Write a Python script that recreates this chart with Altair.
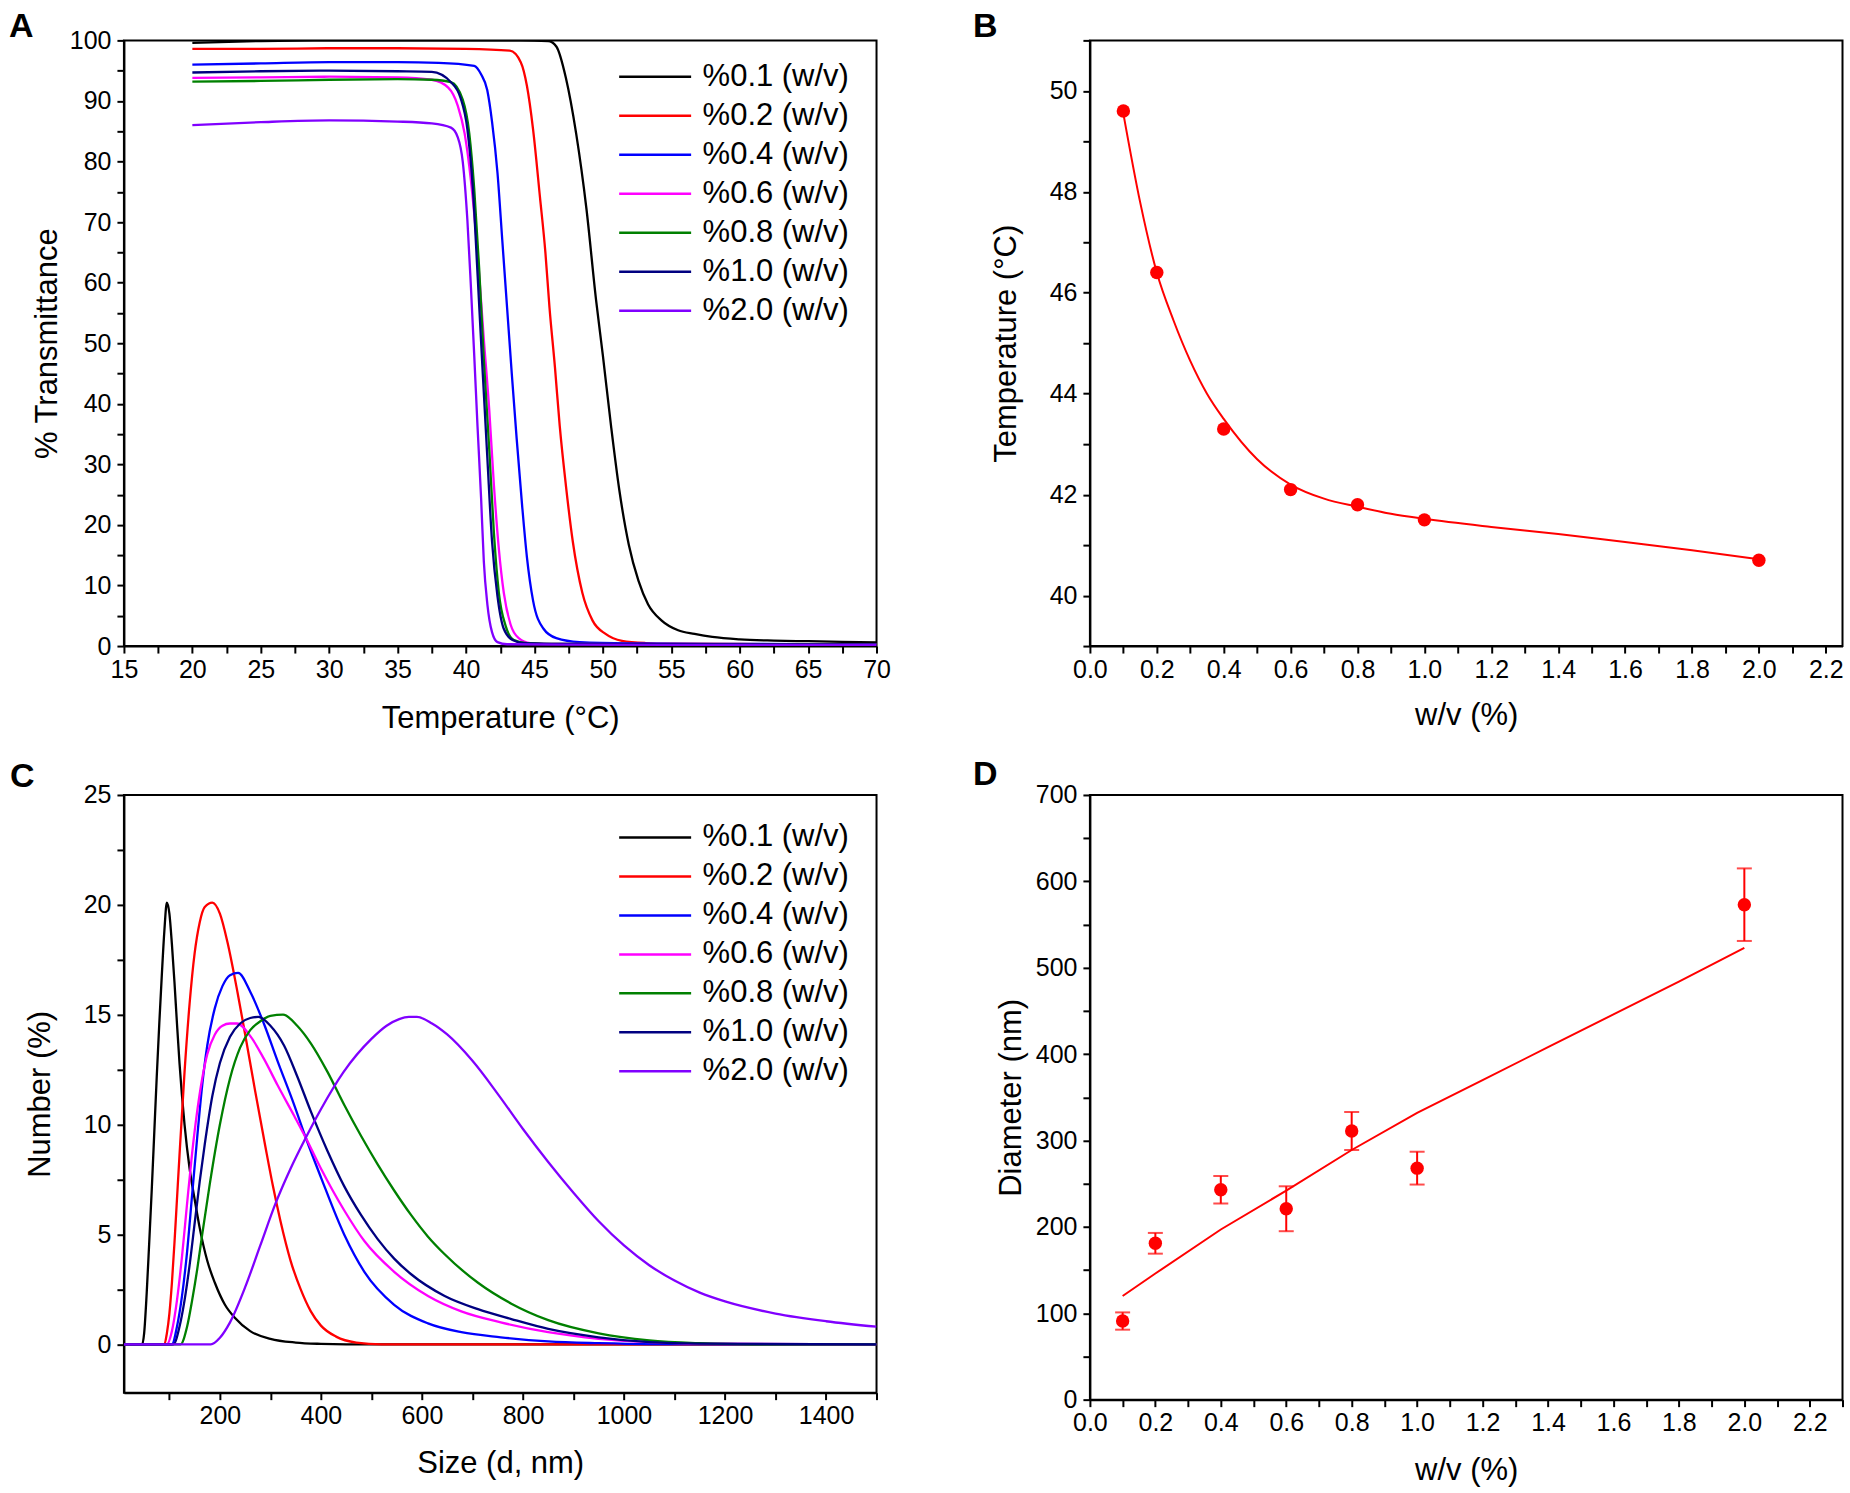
import altair as alt
import pandas as pd

FONT = "Liberation Sans"

SERIES = ["%0.1 (w/v)", "%0.2 (w/v)", "%0.4 (w/v)", "%0.6 (w/v)",
          "%0.8 (w/v)", "%1.0 (w/v)", "%2.0 (w/v)"]
COLORS = ["#000000", "#ff0000", "#0000ff", "#ff00ff", "#008000", "#000080", "#8000ff"]

# ---------------- Panel A: transmittance vs temperature ----------------
a_t_01 = [20, 25, 30, 35, 40, 44, 46, 46.6, 47.3, 48.05, 48.8, 49.5, 50.0, 50.6, 51.2,
          51.9, 52.6, 53.3, 54.3, 55.5, 56.7, 58, 60, 62.5, 65, 67.5, 70]
a_y_01 = [99.6, 99.9, 100, 100, 100, 100, 99.9, 99.0, 93.8, 84.6, 72.2, 57.2, 48, 36.3, 25.8,
          16.7, 10.8, 6.9, 4.2, 2.6, 2.0, 1.5, 1.1, 0.9, 0.8, 0.7, 0.6]
a_t_02 = [20, 25, 30, 35, 40, 43.2, 44.0, 44.45, 44.9, 45.4, 45.8, 46.1, 46.5, 46.85, 47.3,
          47.8, 48.5, 49.25, 50.2, 51.4, 53.1, 55, 60, 65, 70]
a_y_02 = [98.6, 98.6, 98.7, 98.7, 98.6, 98.3, 96.4, 92.5, 85.3, 74.2, 65, 55.9, 46, 36.3, 26.5,
          17.3, 8.8, 4.2, 2.0, 0.85, 0.5, 0.4, 0.35, 0.3, 0.3]
a_t_04 = [20, 25, 30, 35, 38, 40.6, 41.1, 41.55, 41.9, 42.3, 42.65, 43.0, 43.35, 43.7, 44.1,
          44.45, 44.9, 45.65, 46.6, 48.3, 52, 60, 70]
a_y_04 = [96.0, 96.2, 96.4, 96.4, 96.3, 95.8, 94.4, 91.8, 86.6, 78.1, 67, 55.9, 44.8, 34.3, 23.2,
          14.7, 7.5, 2.9, 1.3, 0.65, 0.45, 0.35, 0.3]
a_t_06 = [20, 25, 30, 35, 37.5, 38.7, 39.4, 39.9, 40.36, 40.84, 41.3, 41.7, 42.04, 42.4, 42.76,
          43.25, 43.85, 44.7, 47, 55, 70]
a_y_06 = [93.8, 93.9, 94.0, 93.9, 93.5, 92.2, 89.2, 84.6, 76.8, 65, 50.7, 38.9, 26.5, 16, 8.8,
          3.6, 1.3, 0.5, 0.35, 0.3, 0.25]
a_t_08 = [20, 25, 30, 35, 37.5, 38.9, 39.76, 40.24, 40.6, 40.96, 41.3, 41.7, 42.04, 42.4, 42.9,
          43.5, 44.45, 47, 55, 70]
a_y_08 = [93.2, 93.3, 93.5, 93.6, 93.5, 93.1, 90.2, 84.6, 75.5, 62.4, 47.4, 32.4, 18.6, 8.8, 3.3,
          1.0, 0.5, 0.35, 0.3, 0.25]
a_t_10 = [20, 25, 30, 35, 37.5, 38.9, 39.6, 40.1, 40.5, 40.85, 41.2, 41.56, 41.9, 42.3, 42.75,
          43.4, 44.2, 47, 55, 70]
a_y_10 = [94.7, 94.9, 95.0, 94.9, 94.8, 93.1, 90.5, 85.3, 75.5, 61.1, 46, 31, 17.3, 8.2, 2.9,
          1.0, 0.5, 0.35, 0.3, 0.25]
a_t_20 = [20, 25, 30, 35, 37.5, 38.9, 39.4, 39.76, 40.1, 40.36, 40.6, 40.84, 41.1, 41.3, 41.56,
          41.9, 42.3, 43, 47, 55, 70]
a_y_20 = [86.0, 86.5, 86.8, 86.6, 86.3, 85.6, 84, 80, 70.3, 59.2, 48, 36.3, 24.5, 14, 6.9,
          2.3, 0.65, 0.3, 0.25, 0.2, 0.2]

# ---------------- Panel B: transition temperature ----------------
b_conc = [0.1, 0.2, 0.4, 0.6, 0.8, 1.0, 2.0]
b_temp = [49.6, 46.4, 43.3, 42.1, 41.8, 41.5, 40.7]
b_fit_x = [0.1, 0.15, 0.2, 0.25, 0.3, 0.35, 0.4, 0.5, 0.6, 0.7, 0.8, 0.9, 1.0, 1.2, 1.4, 1.6, 1.8, 2.0]
b_fit_y = [49.55, 47.8, 46.4, 45.45, 44.65, 44.0, 43.5, 42.7, 42.2, 41.92, 41.76, 41.62, 41.52,
           41.36, 41.22, 41.06, 40.9, 40.72]

# ---------------- Panel C: number size distributions ----------------
c_x_01 = [10, 46, 50, 55, 60, 65, 70, 75, 80, 85, 90, 95, 100, 105, 110, 115, 120, 130, 140, 150,
          160, 175, 190, 210, 230, 260, 300, 350, 400, 450, 1500]
c_y_01 = [0, 0, 0.5, 2.3, 4.6, 7.0, 9.6, 12.2, 14.6, 16.8, 18.8, 20.1, 19.6, 18.2, 16.5, 14.6, 12.8,
          10.0, 8.0, 6.6, 5.3, 3.8, 2.8, 1.8, 1.2, 0.6, 0.25, 0.08, 0.02, 0, 0]
c_x_02 = [10, 90, 95, 100, 105, 110, 115, 120, 130, 140, 150, 160, 170, 185, 200, 215, 235, 250,
          270, 290, 305, 320, 340, 360, 380, 400, 430, 470, 520, 1500]
c_y_02 = [0, 0, 0.5, 1.4, 2.8, 4.6, 6.6, 8.6, 12.4, 15.5, 17.8, 19.2, 19.9, 20.1, 19.6, 18.3, 16.0,
          14.1, 11.5, 9.0, 7.2, 5.6, 3.8, 2.5, 1.5, 0.85, 0.35, 0.08, 0, 0]
c_x_04 = [10, 105, 115, 125, 135, 145, 155, 165, 175, 190, 205, 220, 236, 261, 287, 314, 347, 370,
          400, 446, 486, 545, 612, 678, 756, 850, 950, 1050, 1500]
c_y_04 = [0, 0, 0.8, 2.2, 4.2, 6.8, 9.4, 11.8, 13.6, 15.3, 16.3, 16.8, 16.9, 16.0, 14.6, 12.9, 10.9,
          9.4, 7.6, 5.0, 3.3, 1.8, 0.95, 0.55, 0.32, 0.13, 0.05, 0.01, 0]
c_x_06 = [10, 95, 105, 115, 125, 135, 145, 155, 165, 175, 190, 205, 220, 234, 261, 287, 314, 347,
          370, 400, 446, 486, 545, 612, 678, 756, 850, 950, 1050, 1150, 1500]
c_y_06 = [0, 0, 0.6, 2.0, 4.0, 6.4, 8.7, 10.6, 12.1, 13.2, 14.1, 14.5, 14.6, 14.6, 14.0, 13.0, 11.8,
          10.4, 9.4, 8.0, 6.1, 4.7, 3.3, 2.2, 1.5, 1.0, 0.55, 0.25, 0.1, 0.03, 0]
c_x_08 = [10, 122, 135, 145, 155, 165, 180, 200, 220, 240, 260, 280, 300, 325, 353, 380, 413, 446,
          479, 512, 545, 578, 612, 645, 711, 777, 850, 950, 1050, 1150, 1250, 1500]
c_y_08 = [0, 0, 0.8, 2.0, 3.4, 5.0, 7.3, 10.0, 12.1, 13.5, 14.3, 14.7, 14.95, 15.0, 14.5, 13.7, 12.4,
          10.9, 9.5, 8.2, 7.0, 5.9, 4.9, 4.1, 2.8, 1.85, 1.1, 0.5, 0.18, 0.05, 0, 0]
c_x_10 = [10, 108, 120, 130, 140, 150, 160, 170, 185, 200, 220, 240, 260, 276, 300, 327, 353, 380,
          413, 446, 479, 512, 545, 578, 645, 711, 777, 850, 950, 1050, 1150, 1500]
c_y_10 = [0, 0, 0.8, 2.0, 3.6, 5.5, 7.4, 9.1, 11.3, 12.8, 14.0, 14.6, 14.85, 14.9, 14.5, 13.6, 12.2,
          10.6, 8.8, 7.2, 5.9, 4.8, 3.9, 3.2, 2.2, 1.6, 1.15, 0.7, 0.32, 0.1, 0.03, 0]
c_x_20 = [10, 182, 200, 220, 250, 280, 310, 340, 370, 400, 445, 500, 530, 555, 574, 590, 620, 650,
          700, 750, 800, 850, 900, 950, 1000, 1050, 1100, 1150, 1200, 1300, 1400, 1500]
c_y_20 = [0, 0, 0.3, 1.0, 2.6, 4.5, 6.4, 8.0, 9.4, 10.7, 12.4, 13.9, 14.5, 14.8, 14.9, 14.9, 14.6,
          14.1, 12.9, 11.4, 9.8, 8.3, 6.9, 5.6, 4.5, 3.6, 2.9, 2.35, 1.95, 1.4, 1.05, 0.8]

# ---------------- Panel D: hydrodynamic diameter ----------------
d_conc = [0.1, 0.2, 0.4, 0.6, 0.8, 1.0, 2.0]
d_diam = [91, 181, 243, 221, 311, 268, 573]
d_err = [10, 12, 16, 26, 22, 19, 42]
d_fit_x = [0.1, 0.2, 0.4, 0.6, 0.8, 1.0, 1.2, 1.4, 1.6, 1.8, 2.0]
d_fit_y = [120, 146, 197, 242, 289, 332, 370, 408, 446, 484, 523]

# Tick positions (labelled + unlabelled)
a_xticks = [15 + 2.5 * i for i in range(23)]
a_yticks = [5 * i for i in range(21)]
w_ticks = [round(0.1 * i, 1) for i in range(24)]
b_yticks = list(range(39, 52))
c_xticks = [100 * i for i in range(1, 16)]
c_yticks = [2.5 * i for i in range(11)]
d_yticks = [50 * i for i in range(15)]

W, H_TOP, H_C, H_D = 753, 606, 598, 605
RED = "#ff0000"


def long_frame(xs, ys, xname, yname):
    rows = []
    for k, (xv, yv) in enumerate(zip(xs, ys)):
        for xi, yi in zip(xv, yv):
            rows.append({xname: xi, yname: yi, "series": SERIES[k], "k": k})
    return pd.DataFrame(rows)


def letter(ch, dx, dy):
    return alt.Chart(alt.Data(values=[{}])).mark_text(
        text=ch, font=FONT, fontSize=34, fontWeight="bold",
        align="left", baseline="alphabetic", color="black"
    ).encode(x=alt.value(dx), y=alt.value(dy))


def series_legend(y0):
    return alt.Legend(
        title=None, orient="none", legendX=516, legendY=y0,
        labelFont=FONT, labelFontSize=31, labelColor="black",
        symbolType="M-3.6,0H3.6", symbolSize=400, symbolStrokeWidth=2.5,
        labelOffset=32, rowPadding=7, padding=0,
    )


color_scale = alt.Scale(domain=SERIES, range=COLORS)
W_LABEL = "round(datum.value * 10) % 2 == 0 && datum.value < 2.25 ? format(datum.value, '.1f') : ''"

# ---- A
df_a = long_frame([a_t_01, a_t_02, a_t_04, a_t_06, a_t_08, a_t_10, a_t_20],
                  [a_y_01, a_y_02, a_y_04, a_y_06, a_y_08, a_y_10, a_y_20], "temp", "trans")
lines_a = alt.Chart(df_a).mark_line(strokeWidth=2.3, interpolate="monotone", clip=True).encode(
    x=alt.X("temp:Q", scale=alt.Scale(domain=[15, 70], nice=False, zero=False),
            axis=alt.Axis(title="Temperature (°C)", values=a_xticks, titlePadding=21,
                          labelExpr="datum.value % 5 == 0 ? datum.label : ''")),
    y=alt.Y("trans:Q", scale=alt.Scale(domain=[0, 100], nice=False, zero=False),
            axis=alt.Axis(title="% Transmittance", values=a_yticks, titlePadding=6,
                          labelExpr="datum.value % 10 == 0 ? datum.label : ''")),
    color=alt.Color("series:N", scale=color_scale, legend=series_legend(21)),
    detail="k:N",
)
panel_a = alt.layer(lines_a, letter("A", -115, -3)).properties(width=W, height=H_TOP)

# ---- B
df_b = pd.DataFrame({"conc": b_conc, "tc": b_temp})
df_bf = pd.DataFrame({"conc": b_fit_x, "tc": b_fit_y})
bx = alt.X("conc:Q", scale=alt.Scale(domain=[0, 2.25], nice=False, zero=False),
           axis=alt.Axis(title="w/v (%)", values=w_ticks[:23], titlePadding=18, labelExpr=W_LABEL))
by = alt.Y("tc:Q", scale=alt.Scale(domain=[39, 51], nice=False, zero=False),
           axis=alt.Axis(title="Temperature (°C)", values=b_yticks, titlePadding=27,
                         labelExpr="datum.value % 2 == 0 ? datum.label : ''"))
fit_b = alt.Chart(df_bf).mark_line(color=RED, strokeWidth=2, interpolate="monotone").encode(x=bx, y=by)
pts_b = alt.Chart(df_b).mark_circle(color=RED, size=180, opacity=1).encode(x=bx, y=by)
panel_b = alt.layer(fit_b, pts_b, letter("B", -117, -3)).properties(width=W, height=H_TOP)

# ---- C
df_c = long_frame([c_x_01, c_x_02, c_x_04, c_x_06, c_x_08, c_x_10, c_x_20],
                  [c_y_01, c_y_02, c_y_04, c_y_06, c_y_08, c_y_10, c_y_20], "size", "number")
lines_c = alt.Chart(df_c).mark_line(strokeWidth=2.3, interpolate="monotone", clip=True).encode(
    x=alt.X("size:Q", scale=alt.Scale(domain=[10, 1500], nice=False, zero=False),
            axis=alt.Axis(title="Size (d, nm)", values=c_xticks, format="d", titlePadding=20,
                          labelExpr="datum.value % 200 == 0 && datum.value < 1500 ? datum.label : ''")),
    y=alt.Y("number:Q", scale=alt.Scale(domain=[-2.2, 25], nice=False, zero=False),
            axis=alt.Axis(title="Number (%)", values=c_yticks, titlePadding=27,
                          labelExpr="datum.value % 5 == 0 ? datum.label : ''")),
    color=alt.Color("series:N", scale=color_scale, legend=series_legend(27)),
    detail="k:N",
)
panel_c = alt.layer(lines_c, letter("C", -114, -8)).properties(width=W, height=H_C)

# ---- D
df_d = pd.DataFrame({"conc": d_conc, "diam": d_diam, "err": d_err})
df_d["lo"] = df_d["diam"] - df_d["err"]
df_d["hi"] = df_d["diam"] + df_d["err"]
df_df = pd.DataFrame({"conc": d_fit_x, "diam": d_fit_y})
dx = alt.X("conc:Q", scale=alt.Scale(domain=[0, 2.3], nice=False, zero=False),
           axis=alt.Axis(title="w/v (%)", values=w_ticks, titlePadding=20,
                         labelExpr="round(datum.value * 10) % 2 == 0 && datum.value < 2.3 ? format(datum.value, '.1f') : ''"))
dy_scale = alt.Scale(domain=[0, 700], nice=False, zero=False)
dy = alt.Y("diam:Q", scale=dy_scale,
           axis=alt.Axis(title="Diameter (nm)", values=d_yticks, titlePadding=8,
                         labelExpr="datum.value % 100 == 0 ? datum.label : ''"))
fit_d = alt.Chart(df_df).mark_line(color=RED, strokeWidth=2).encode(x=dx, y=dy)
bars_d = alt.Chart(df_d).mark_rule(color=RED, strokeWidth=2).encode(
    x=dx, y=alt.Y("lo:Q", scale=dy_scale), y2="hi:Q")
cap_lo = alt.Chart(df_d).mark_tick(color=RED, orient="horizontal", size=15, thickness=2).encode(
    x=dx, y=alt.Y("lo:Q", scale=dy_scale))
cap_hi = alt.Chart(df_d).mark_tick(color=RED, orient="horizontal", size=15, thickness=2).encode(
    x=dx, y=alt.Y("hi:Q", scale=dy_scale))
pts_d = alt.Chart(df_d).mark_circle(color=RED, size=180, opacity=1).encode(x=dx, y=dy)
panel_d = alt.layer(fit_d, bars_d, cap_lo, cap_hi, pts_d, letter("D", -117, -10)).properties(
    width=W, height=H_D)

chart = alt.concat(
    panel_a, panel_b, panel_c, panel_d,
    columns=2, spacing={"row": 149, "column": 213.5}, bounds="flush",
).resolve_scale(
    x="independent", y="independent", color="independent"
).resolve_legend(
    color="independent"
).configure(
    background="white", padding={"left": 8, "top": 9, "right": 5, "bottom": 5}
).configure_view(
    stroke="black", strokeWidth=2
).configure_axis(
    grid=False, labelFont=FONT, labelFontSize=25, labelColor="black", labelPadding=6,
    labelFlush=False, labelOverlap=False, titleFont=FONT, titleFontSize=31,
    titleFontWeight="normal", titleColor="black", domainColor="black", domainWidth=2,
    tickColor="black", tickWidth=2, tickSize=7,
).configure_axisX(labelPadding=4)

chart.save("out.html", embed_options={"renderer": "svg", "actions": False})
